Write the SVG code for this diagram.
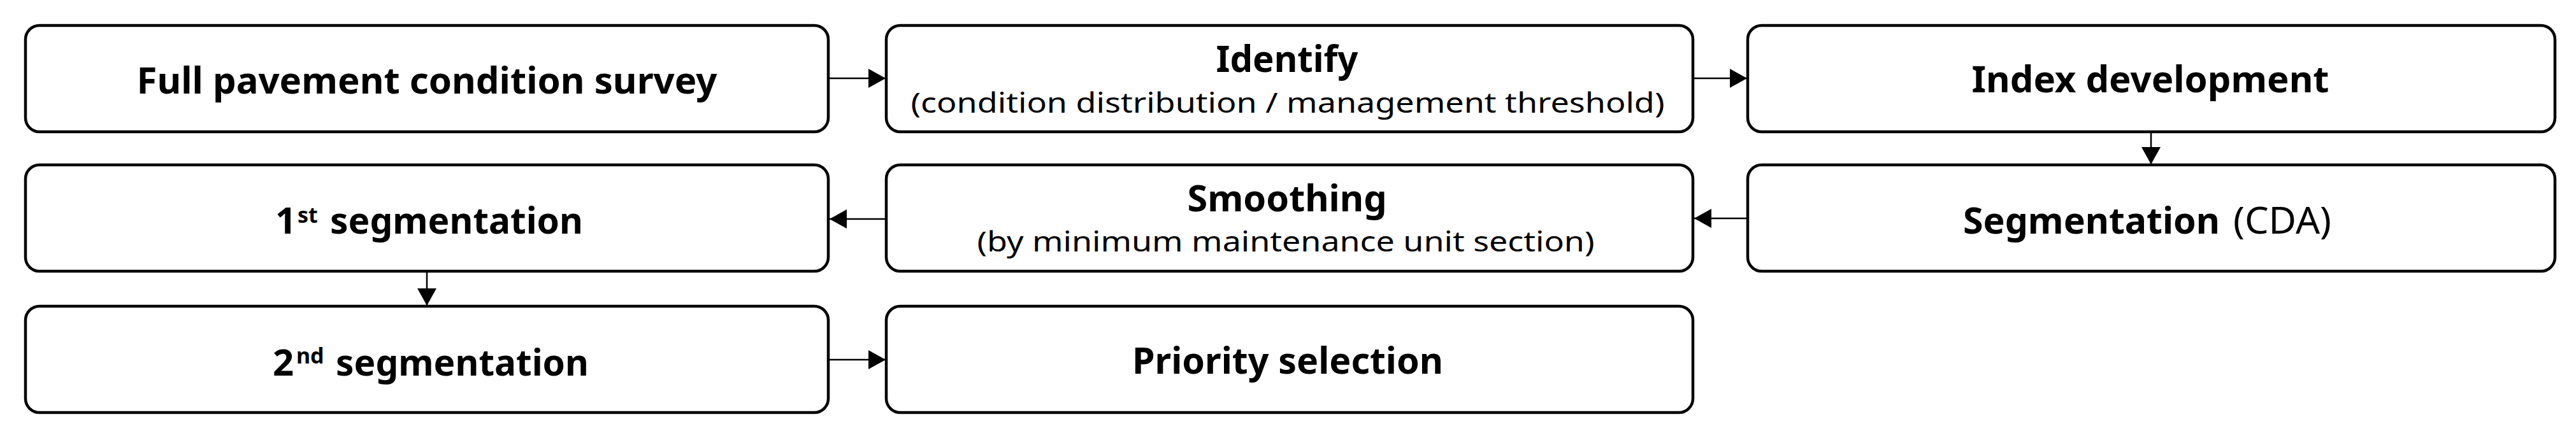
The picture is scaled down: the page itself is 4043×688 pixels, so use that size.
<svg xmlns="http://www.w3.org/2000/svg" width="4043" height="688" viewBox="0 0 4043 688">
<style>
.box{fill:#fff;stroke:#000;stroke-width:4.5}
.t{font-family:"Noto Sans","Open Sans","Liberation Sans",sans-serif;font-weight:bold;font-size:58px;fill:#000}
.s{font-family:"Noto Sans","Open Sans","Liberation Sans",sans-serif;font-weight:normal;font-size:43px;fill:#000}
.r{font-weight:normal}
.sup{font-size:34px}
.c{stroke:#000;stroke-width:2.5;fill:none;marker-end:url(#ah)}
</style>
<defs>
<marker id="ah" markerUnits="userSpaceOnUse" markerWidth="28" markerHeight="30" refX="27" refY="15" orient="auto">
<path d="M0,0 L27,15 L0,30 Z" fill="#000"/>
</marker>
</defs>
<rect width="4043" height="688" fill="#fff"/>
<g id="connectors">
<line class="c" x1="1302" y1="123" x2="1390" y2="123"/>
<line class="c" x1="2659" y1="123" x2="2742" y2="123"/>
<line class="c" x1="3376" y1="207" x2="3376" y2="258"/>
<line class="c" x1="2742" y1="343" x2="2659" y2="343"/>
<line class="c" x1="1390" y1="344" x2="1302" y2="344"/>
<line class="c" x1="670" y1="427" x2="670" y2="480"/>
<line class="c" x1="1302" y1="565" x2="1390" y2="565"/>
</g>
<g id="n1">
<rect class="box" x="40" y="40" width="1260" height="167" rx="22"/>
<text class="t" x="670" y="147" text-anchor="middle" textLength="911" lengthAdjust="spacingAndGlyphs">Full pavement condition survey</text>
</g>
<g id="n2">
<rect class="box" x="1391" y="40" width="1266" height="167" rx="22"/>
<text class="t" x="2020" y="113" text-anchor="middle" textLength="223" lengthAdjust="spacingAndGlyphs">Identify</text>
<text class="s" x="2021" y="177" text-anchor="middle" textLength="1183" lengthAdjust="spacingAndGlyphs">(condition distribution / management threshold)</text>
</g>
<g id="n3">
<rect class="box" x="2743" y="40" width="1267" height="167" rx="22"/>
<text class="t" x="3375" y="145" text-anchor="middle" textLength="561" lengthAdjust="spacingAndGlyphs">Index development</text>
</g>
<g id="n4">
<rect class="box" x="2743" y="259" width="1267" height="167" rx="22"/>
<text class="t" y="367"><tspan x="3081" textLength="403" lengthAdjust="spacingAndGlyphs">Segmentation</tspan><tspan class="r" x="3505" textLength="154" lengthAdjust="spacingAndGlyphs">(CDA)</tspan></text>
</g>
<g id="n5">
<rect class="box" x="1391" y="259" width="1266" height="167" rx="22"/>
<text class="t" x="2020" y="332" text-anchor="middle" textLength="313" lengthAdjust="spacingAndGlyphs">Smoothing</text>
<text class="s" x="2018" y="395" text-anchor="middle" textLength="969" lengthAdjust="spacingAndGlyphs">(by minimum maintenance unit section)</text>
</g>
<g id="n6">
<rect class="box" x="40" y="259" width="1260" height="167" rx="22"/>
<text class="t" y="367"><tspan x="432">1</tspan><tspan class="sup" x="467" y="350">st</tspan><tspan x="518" y="367" textLength="397" lengthAdjust="spacingAndGlyphs">segmentation</tspan></text>
</g>
<g id="n7">
<rect class="box" x="40" y="481" width="1260" height="167" rx="22"/>
<text class="t" y="590"><tspan x="428">2</tspan><tspan class="sup" x="465" y="571">nd</tspan><tspan x="527" y="590" textLength="397" lengthAdjust="spacingAndGlyphs">segmentation</tspan></text>
</g>
<g id="n8">
<rect class="box" x="1391" y="481" width="1266" height="167" rx="22"/>
<text class="t" x="2021" y="587" text-anchor="middle" textLength="488" lengthAdjust="spacingAndGlyphs">Priority selection</text>
</g>
</svg>
